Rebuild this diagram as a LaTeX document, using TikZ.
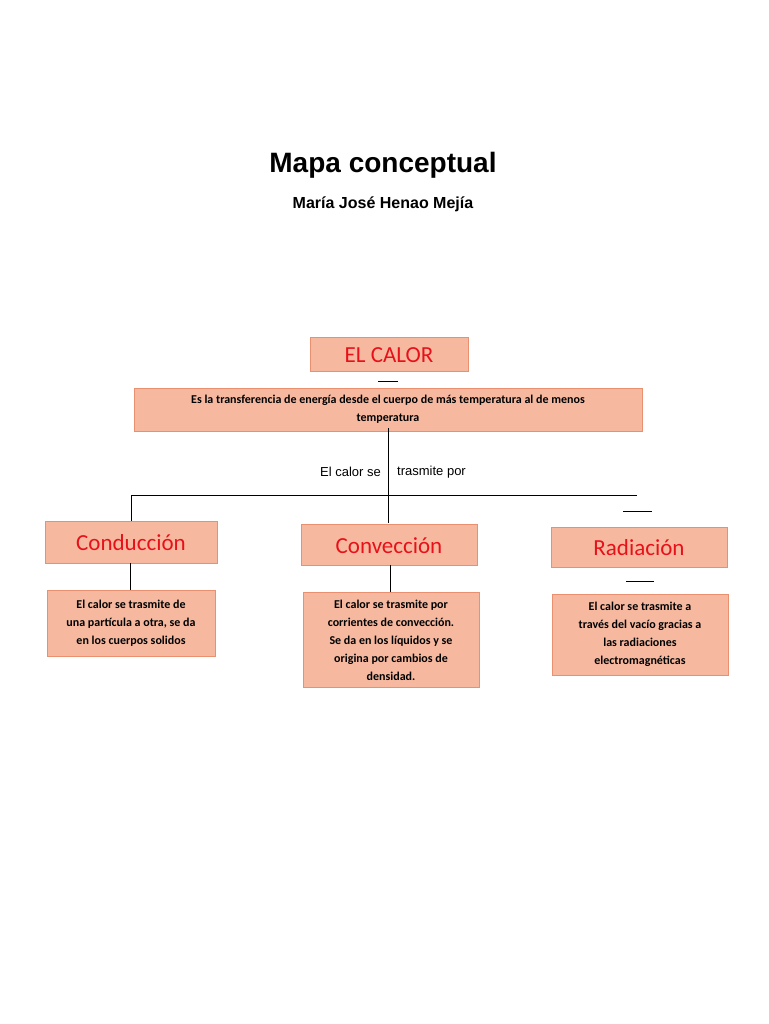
\documentclass[tikz,border=0pt]{standalone}
\usepackage{fontspec}
\setmainfont{Liberation Sans}
\newfontfamily\carfont{Carlito}
\definecolor{boxfill}{HTML}{F6B9A0}
\definecolor{boxline}{HTML}{E8906F}
\definecolor{redtxt}{HTML}{E8111A}
\begin{document}
\begin{tikzpicture}[x=1pt,y=-1pt,
  box/.style={draw=boxline,fill=boxfill,line width=0.8pt},
  head/.style={font=\carfont\fontsize{23}{26}\selectfont,text=redtxt},
  body/.style={font=\carfont\bfseries\fontsize{12}{18}\selectfont,align=center},
  ln/.style={line width=0.8pt,black}]
\useasboundingbox (0,0) rectangle (768,1024);
\fill[white] (0,0) rectangle (768,1024);
\node (title) at (383,165) {\fontsize{28}{32}\selectfont\bfseries Mapa conceptual};
\node (sub) at (383,204) {\fontsize{16}{19}\selectfont\bfseries María José Henao Mejía};

\draw[box] (310,337) rectangle (468,371);
\node[head] (calor) at (389,355) {EL CALOR};
\draw[box] (134,388) rectangle (642,431);
\node[body] (def) at (388,409) {Es la transferencia de energía desde el cuerpo de más temperatura al de menos\\temperatura};
\draw[ln] (378,381) -- (398,381);

\coordinate (top) at (388,428);
\coordinate (hub) at (388,495);
\coordinate (hl) at (131,495);
\coordinate (hr) at (637,495);
\draw[ln] (top) -- (388,523);
\draw[ln] (hl) -- (hr);
\draw[ln] (hl) -- (131,521);
\node[font=\fontsize{13}{15}\selectfont,anchor=east,fill=white,inner sep=1pt] (l1) at (382,472) {El calor se};
\node[font=\fontsize{13}{15}\selectfont,anchor=west,fill=white,inner sep=1pt] (l2) at (396,472) {trasmite por};
\draw[ln] (623,511) -- (652,511);
\draw[ln] (626,581) -- (654,581);

\draw[box] (45,521) rectangle (217,563);
\node[head] (cond) at (131,543) {Conducción};
\draw[box] (301,524) rectangle (477,565);
\node[head] (conv) at (389,546) {Convección};
\draw[box] (551,527) rectangle (727,567);
\node[head] (rad) at (639,548) {Radiación};

\draw[ln] (130,563) -- (130,592);
\draw[ln] (390,565) -- (390,594);

\draw[box] (47,590) rectangle (215,656);
\node[body] (d1) at (131,623) {El calor se trasmite de\\una partícula a otra, se da\\en los cuerpos solidos};
\draw[box] (303,592) rectangle (479,687);
\node[body] (d2) at (391,640) {El calor se trasmite por\\corrientes de convección.\\Se da en los líquidos y se\\origina por cambios de\\densidad.};
\draw[box] (552,594) rectangle (728,675);
\node[body] (d3) at (640,634) {El calor se trasmite a\\través del vacío gracias a\\las radiaciones\\electromagnéticas};
\end{tikzpicture}
\end{document}
